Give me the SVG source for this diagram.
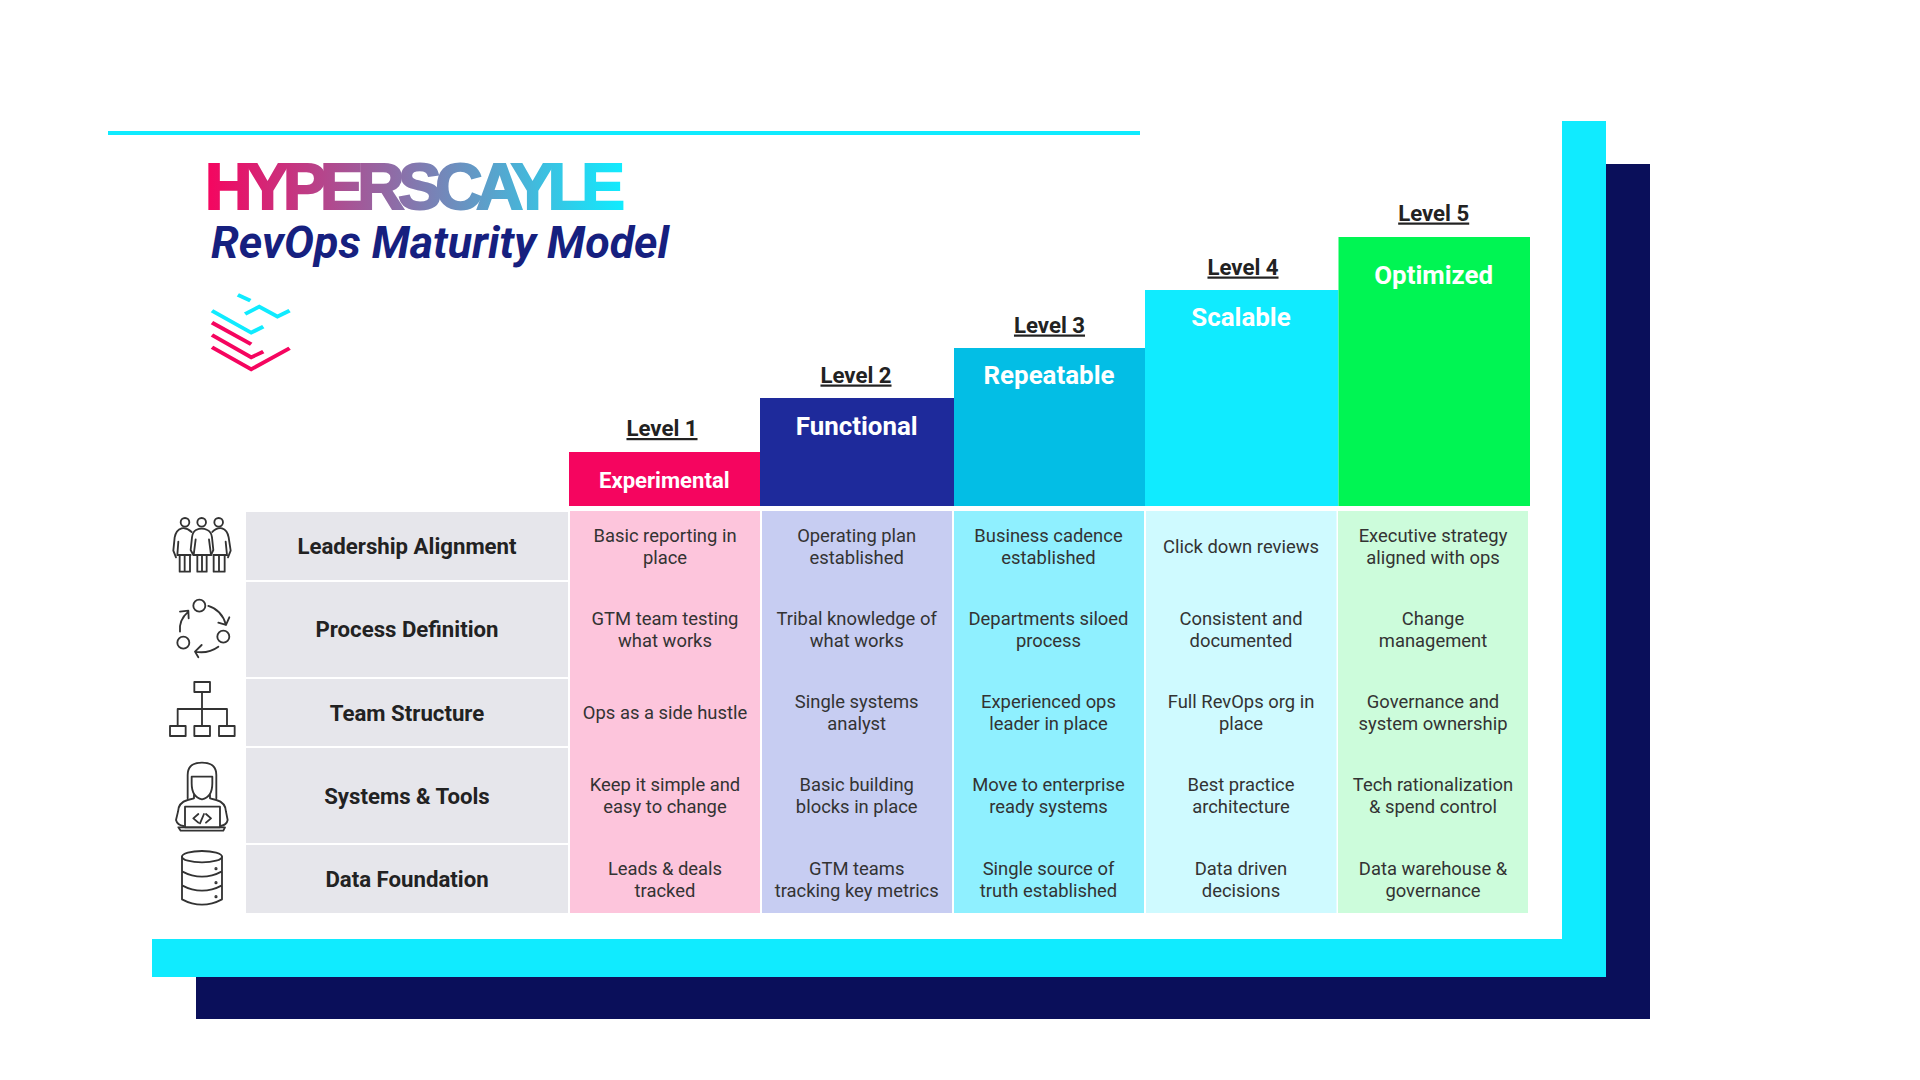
<svg xmlns="http://www.w3.org/2000/svg" width="1920" height="1080" viewBox="0 0 1920 1080">
<style>
text{font-family:Roboto,"Liberation Sans",sans-serif;text-anchor:middle}
.c{font-size:18.4px;fill:#333}
.r{font-size:22.2px;font-weight:700;fill:#222}
.h{font-weight:700;fill:#fff}
.l{font-size:22.2px;font-weight:700;fill:#222;text-decoration:underline}
.i{fill:none;stroke:#333;stroke-width:5.5;stroke-linecap:round;stroke-linejoin:round}
.s{fill:none;stroke-width:11;stroke-linejoin:miter}
</style>
<defs>
<linearGradient id="lg" gradientUnits="userSpaceOnUse" x1="207" y1="0" x2="624" y2="0"><stop offset="0" stop-color="#f5055f"/><stop offset="1" stop-color="#10ecff"/></linearGradient>
</defs>
<rect width="1920" height="1080" fill="#fff"/>
<g id="frame">
<rect x="196" y="164" width="1454" height="855" fill="#0a0f5a"/>
<rect x="152" y="121" width="1454" height="856" fill="#10ebff"/>
<rect x="100" y="100" width="1462" height="839" fill="#fff"/>
<rect x="1562" y="121" width="44" height="856" fill="#10ebff"/>
<rect x="108" y="131" width="1032" height="4" fill="#10ebff"/>
</g>
<g id="logo">
<text x="205" y="208.500" style="text-anchor:start;font-family:'Liberation Sans',sans-serif;font-weight:700;font-size:65.500px" fill="url(#lg)" stroke="url(#lg)" stroke-width="2" textLength="420" lengthAdjust="spacing">HYPERSCAYLE</text>
<text x="211" y="258" style="text-anchor:start;font-style:italic;font-weight:700;font-size:44.800px" fill="#16207f">RevOps Maturity Model</text>
<g transform="translate(91.600,110) scale(.404,.3333)">
<g class="s" stroke="#10ebff"><path d="M362 555L393 572"/><path d="M380 612L415 590L460 620L490 602"/><path d="M298 602L395 668L425 650"/></g>
<g class="s" stroke="#f5055f"><path d="M298 638L395 703"/><path d="M298 675L395 742L425 725"/><path d="M298 712L395 778L490 715"/></g>
</g>
</g>
<g id="level1"><text class="l" x="662" y="436">Level 1</text><rect x="569" y="452" width="191" height="54" fill="#f5055f"/><text class="h" x="664.300" y="488" font-size="22.100">Experimental</text></g>
<g id="level2"><text class="l" x="856" y="382.500">Level 2</text><rect x="760" y="398" width="194" height="108" fill="#1e2a9b"/><text class="h" x="856.700" y="434.500" font-size="25.900">Functional</text></g>
<g id="level3"><text class="l" x="1049.500" y="332.500">Level 3</text><rect x="954" y="348" width="191" height="158" fill="#03bee5"/><text class="h" x="1049" y="383.500" font-size="25.900">Repeatable</text></g>
<g id="level4"><text class="l" x="1243" y="274.500">Level 4</text><rect x="1145" y="290" width="193.500" height="216" fill="#10ebff"/><text class="h" x="1241" y="326" font-size="25.900">Scalable</text></g>
<g id="level5"><text class="l" x="1433.700" y="220.500">Level 5</text><rect x="1338.500" y="237" width="191.500" height="269" fill="#00f553"/><text class="h" x="1433.700" y="284" font-size="25.900">Optimized</text></g>
<g id="rows">
<rect x="246" y="512" width="322" height="68" fill="#e6e6eb"/>
<rect x="246" y="582" width="322" height="95" fill="#e6e6eb"/>
<rect x="246" y="679" width="322" height="67" fill="#e6e6eb"/>
<rect x="246" y="748" width="322" height="95" fill="#e6e6eb"/>
<rect x="246" y="845" width="322" height="68" fill="#e6e6eb"/>
<text class="r" x="407" y="554">Leadership Alignment</text>
<text class="r" x="407" y="637">Process Definition</text>
<text class="r" x="407" y="720.500">Team Structure</text>
<text class="r" x="407" y="803.500">Systems &amp; Tools</text>
<text class="r" x="407" y="887">Data Foundation</text>
</g>
<g id="cells">
<rect x="570" y="511" width="190" height="402" fill="#fdc5dc"/>
<rect x="762" y="511" width="190" height="402" fill="#c7cdf2"/>
<rect x="954" y="511" width="190" height="402" fill="#8ff0ff"/>
<rect x="1146" y="511" width="190.500" height="402" fill="#cffaff"/>
<rect x="1338" y="511" width="190" height="402" fill="#ccfcdb"/>
</g>
<g id="col1">
<text class="c" x="665" y="541.500">Basic reporting in</text><text class="c" x="665" y="563.500">place</text>
<text class="c" x="665" y="624.800">GTM team testing</text><text class="c" x="665" y="646.800">what works</text>
<text class="c" x="665" y="719.300">Ops as a side hustle</text>
<text class="c" x="665" y="791.400">Keep it simple and</text><text class="c" x="665" y="813.400">easy to change</text>
<text class="c" x="665" y="874.700">Leads &amp; deals</text><text class="c" x="665" y="896.700">tracked</text>
</g>
<g id="col2">
<text class="c" x="856.700" y="541.500">Operating plan</text><text class="c" x="856.700" y="563.500">established</text>
<text class="c" x="856.700" y="624.800">Tribal knowledge of</text><text class="c" x="856.700" y="646.800">what works</text>
<text class="c" x="856.700" y="708.100">Single systems</text><text class="c" x="856.700" y="730.100">analyst</text>
<text class="c" x="856.700" y="791.400">Basic building</text><text class="c" x="856.700" y="813.400">blocks in place</text>
<text class="c" x="856.700" y="874.700">GTM teams</text><text class="c" x="856.700" y="896.700">tracking key metrics</text>
</g>
<g id="col3">
<text class="c" x="1048.500" y="541.500">Business cadence</text><text class="c" x="1048.500" y="563.500">established</text>
<text class="c" x="1048.500" y="624.800">Departments siloed</text><text class="c" x="1048.500" y="646.800">process</text>
<text class="c" x="1048.500" y="708.100">Experienced ops</text><text class="c" x="1048.500" y="730.100">leader in place</text>
<text class="c" x="1048.500" y="791.400">Move to enterprise</text><text class="c" x="1048.500" y="813.400">ready systems</text>
<text class="c" x="1048.500" y="874.700">Single source of</text><text class="c" x="1048.500" y="896.700">truth established</text>
</g>
<g id="col4">
<text class="c" x="1241" y="552.500">Click down reviews</text>
<text class="c" x="1241" y="624.800">Consistent and</text><text class="c" x="1241" y="646.800">documented</text>
<text class="c" x="1241" y="708.100">Full RevOps org in</text><text class="c" x="1241" y="730.100">place</text>
<text class="c" x="1241" y="791.400">Best practice</text><text class="c" x="1241" y="813.400">architecture</text>
<text class="c" x="1241" y="874.700">Data driven</text><text class="c" x="1241" y="896.700">decisions</text>
</g>
<g id="col5">
<text class="c" x="1433" y="541.500">Executive strategy</text><text class="c" x="1433" y="563.500">aligned with ops</text>
<text class="c" x="1433" y="624.800">Change</text><text class="c" x="1433" y="646.800">management</text>
<text class="c" x="1433" y="708.100">Governance and</text><text class="c" x="1433" y="730.100">system ownership</text>
<text class="c" x="1433" y="791.400">Tech rationalization</text><text class="c" x="1433" y="813.400">&amp; spend control</text>
<text class="c" x="1433" y="874.700">Data warehouse &amp;</text><text class="c" x="1433" y="896.700">governance</text>
</g>
<g id="icon-people" class="i" transform="translate(150,500) scale(.3333)">
<circle cx="105" cy="67" r="13"/><circle cx="155" cy="67" r="13"/><circle cx="206" cy="67" r="13"/>
<path d="M138 90Q128 95 126 112L122 150L130 165H183L190 150L186 112Q184 95 172 90Q155 82 138 90Z"/>
<path d="M137 118L131 165M177 118L183 165"/>
<path d="M142 166V215H170V166M156 166V215"/>
<path d="M125 96Q110 82 95 85Q78 90 74 112L70 152L78 172M85 125L82 165H122"/>
<path d="M89 166V215H120V166M104 166V215"/>
<path d="M187 96Q200 82 216 85Q232 90 236 112L242 152L234 172M227 125L231 165H190"/>
<path d="M191 166V215H224V166M207 166V215"/>
</g>
<g id="icon-process" class="i" transform="translate(150,500) scale(.3333)">
<circle cx="148" cy="317" r="18"/><circle cx="220" cy="410" r="18"/><circle cx="100" cy="428" r="18"/>
<path d="M175 318Q215 330 228 375M205 368L228 375L238 352"/>
<path d="M205 440Q175 462 135 455M155 435L135 455L145 472"/>
<path d="M90 395Q86 360 115 335M90 335L115 332L116 355"/>
</g>
<g id="icon-org" class="i" transform="translate(150,500) scale(.3333)">
<rect x="133" y="546" width="47" height="30"/>
<path d="M156 576V678M83 678V627H231V678"/>
<rect x="60" y="678" width="47" height="30"/><rect x="133" y="678" width="47" height="30"/><rect x="207" y="678" width="47" height="30"/>
</g>
<g id="icon-dev" class="i" transform="translate(150,740) scale(.3333)">
<path d="M113 175V105Q113 68 156 68Q199 68 199 105V175"/>
<path d="M125 110H187V130Q187 172 156 178Q125 172 125 130Z"/>
<path d="M132 165V175L113 180Q85 188 84 215L78 240Q82 255 100 258M180 165V175L199 180Q227 188 228 215L233 240Q230 255 212 258"/>
<rect x="105" y="200" width="105" height="62"/>
<path d="M85 262H225L220 272H92Z"/>
<path d="M145 222L130 235L145 248M168 222L183 235L168 248M162 222L150 250"/>
</g>
<g id="icon-data" class="i" transform="translate(150,740) scale(.3333)">
<ellipse cx="156" cy="350" rx="60" ry="17"/>
<path d="M96 350V478Q156 510 216 478V350M96 394Q156 426 216 394M96 436Q156 468 216 436"/>
<circle cx="198" cy="386" r="2"/><circle cx="198" cy="428" r="2"/><circle cx="198" cy="470" r="2"/>
</g>
</svg>
